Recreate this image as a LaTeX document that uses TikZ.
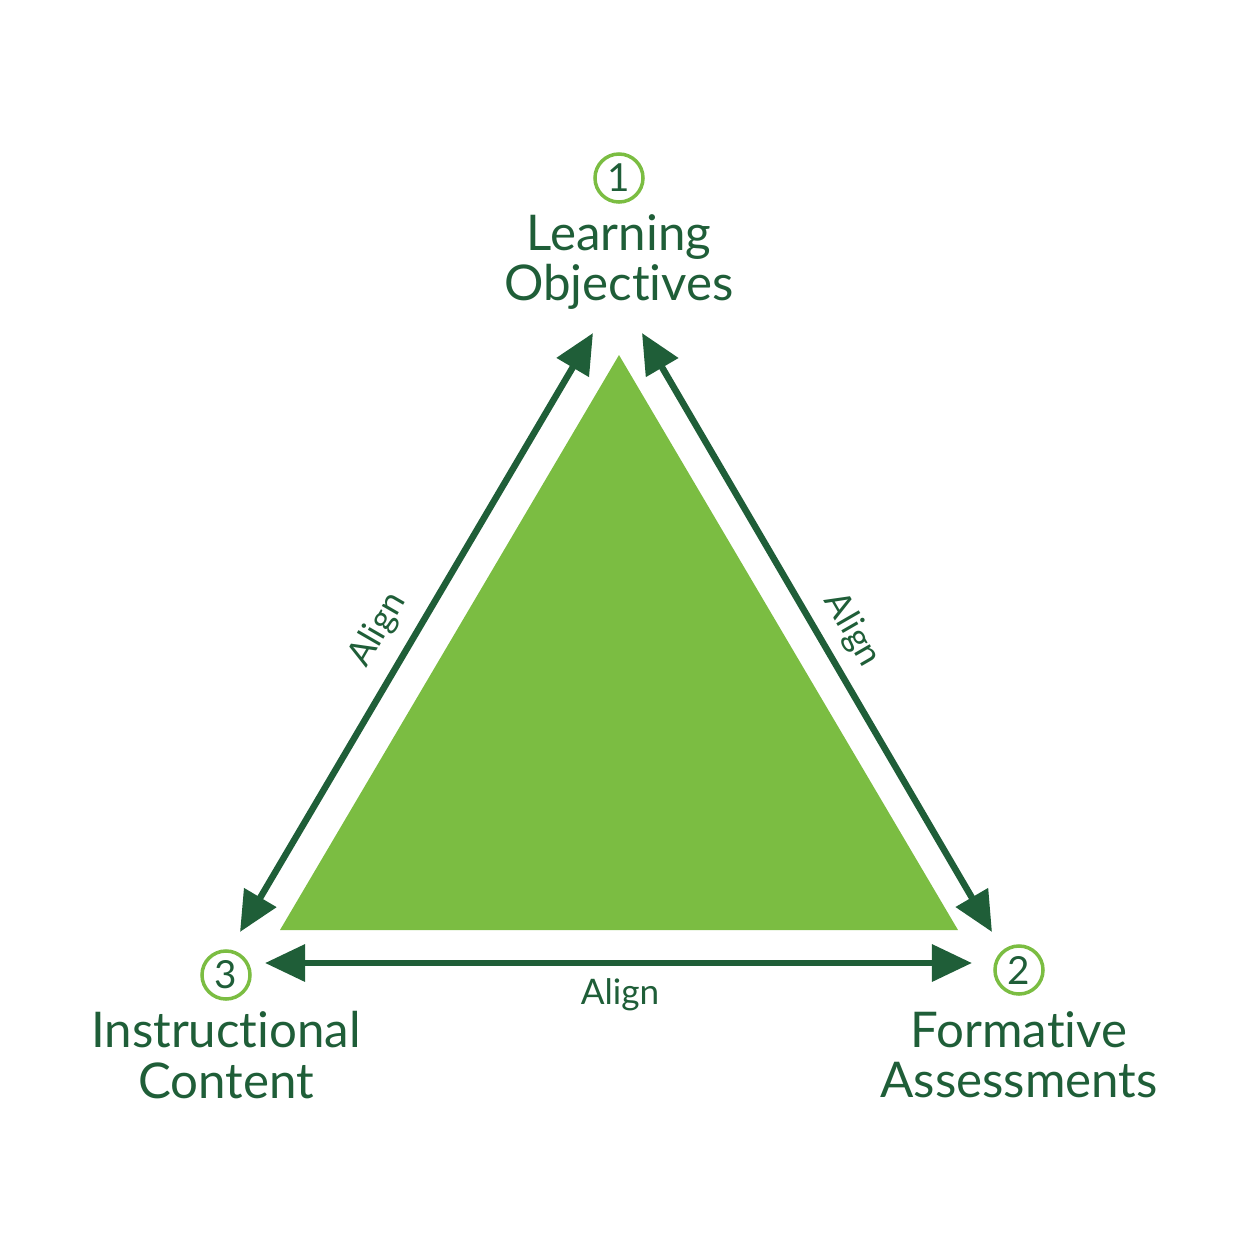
\documentclass[tikz,border=0pt]{standalone}
\usepackage{fontspec}
\setmainfont{Lato}[Ligatures={NoCommon,NoDiscretionary,NoRare}]
\usetikzlibrary{arrows.meta}
\definecolor{dg}{HTML}{1F5E38}
\definecolor{lg}{HTML}{7BBD42}
\begin{document}
\begin{tikzpicture}[x=0.01cm,y=-0.01cm,
  arr/.style={draw=dg,line width=0.065cm,{Triangle[length=0.4cm,width=0.36cm]}-{Triangle[length=0.4cm,width=0.36cm]}},
  num/.style={circle,draw=lg,line width=0.035cm,minimum size=0.48cm,inner sep=0pt,text=dg,font=\fontsize{11}{11}\selectfont},
  lbl/.style={text=dg,align=center,font=\fontsize{14}{14.3}\selectfont},
  al/.style={text=dg,font=\fontsize{10}{10}\selectfont}]
\useasboundingbox (0,0) rectangle (1250,1250);
\fill[lg] (619,355) coordinate (apex) -- (280,930) coordinate (bl) -- (958,930) coordinate (br) -- cycle;
\coordinate (lt) at (593,333); \coordinate (lb) at (240,932);
\coordinate (rt) at (642,333); \coordinate (rb) at (992,932);
\coordinate (bL) at (265,963); \coordinate (bR) at (972,963);
\draw[arr] (lt) -- (lb);
\draw[arr] (rt) -- (rb);
\draw[arr] (bL) -- (bR);
\node[al,rotate=60] (a1) at (378,630) {Align};
\node[al,rotate=-60] (a2) at (852,630) {Align};
\node[al] (a3) at (620,995) {Align};
\node[num] (n1) at (619,178) {1};
\node[num] (n2) at (1019,970) {2};
\node[num] (n3) at (226,975) {3};
\node[lbl] (t1) at (619,262) {Learning\\Objectives};
\node[lbl] (t2) at (1019,1055) {Formative\\Assessments};
\node[lbl] (t3) at (226,1055) {Instructional\\Content};
\end{tikzpicture}
\end{document}
